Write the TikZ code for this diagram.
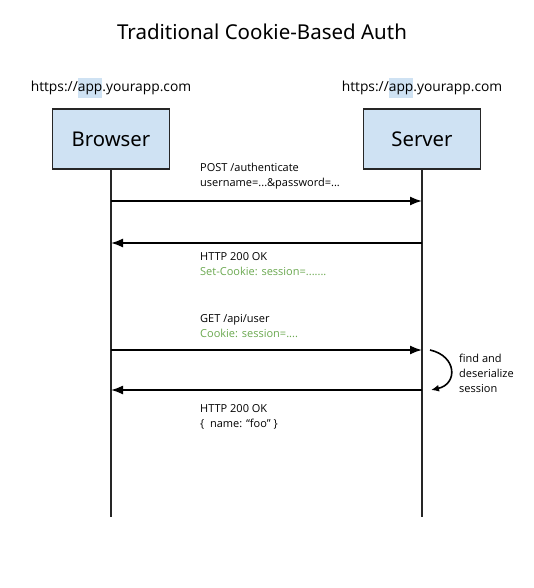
\documentclass[tikz,border=0pt]{standalone}
\usepackage{fontspec}
\setmainfont{Open Sans}
\newfontfamily\titlefont{Noto Sans}
\usetikzlibrary{arrows.meta}
\definecolor{boxblue}{HTML}{CFE2F3}
\definecolor{hlblue}{HTML}{CFE2F3}
\definecolor{okgreen}{HTML}{6AA84F}
\begin{document}
\begin{tikzpicture}[x=1pt,y=-1pt,
  actor/.style={draw=black!85,line width=1.6pt,fill=boxblue,minimum width=117pt,minimum height=60pt,font=\titlefont\fontsize{20.3}{22}\selectfont},
  lifeline/.style={draw=black!85,line width=1.8pt},
  msg/.style={draw=black,line width=1.6pt,-{Latex[length=12pt,width=9pt]}},
  lbl/.style={anchor=west,inner sep=0pt,align=left,font=\fontsize{11}{15}\selectfont},
  url/.style={inner sep=0pt,font=\fontsize{13.8}{15}\selectfont}]
\useasboundingbox (0,0) rectangle (534,588);
\node[font=\titlefont\fontsize{20.5}{24}\selectfont] (title) at (262,32) {Traditional Cookie-Based Auth};
\node[url] (u1) at (111,88) {https://\colorbox{hlblue}{\rule[-3pt]{0pt}{13pt}\hspace{-3pt}app\hspace{-3pt}}.yourapp.com};
\node[url] (u2) at (422,88) {https://\colorbox{hlblue}{\rule[-3pt]{0pt}{13pt}\hspace{-3pt}app\hspace{-3pt}}.yourapp.com};
\node[actor] (b) at (111,139) {Browser};
\node[actor] (s) at (422,139) {Server};
\coordinate (bend) at (111,517);
\coordinate (send) at (422,517);
\draw[lifeline] (b.south) -- (bend);
\draw[lifeline] (s.south) -- (send);
\coordinate (b1) at (111,201); \coordinate (s1) at (422,201);
\coordinate (b2) at (111,243); \coordinate (s2) at (422,243);
\coordinate (b3) at (111,350); \coordinate (s3) at (422,350);
\coordinate (b4) at (111,390); \coordinate (s4) at (422,390);
\draw[msg] (b1) -- (s1);
\draw[msg] (s2) -- (b2);
\draw[msg] (b3) -- (s3);
\draw[msg] (s4) -- (b4);
\node[lbl] (l1) at (200,176) {POST /authenticate\\username=...\&password=...};
\node[lbl] (l2) at (200,264.5) {HTTP 200 OK\\\textcolor{okgreen}{Set-Cookie: session=.......}};
\node[lbl] (l3) at (200,326.5) {GET /api/user\\\textcolor{okgreen}{Cookie: session=....}};
\node[lbl] (l4) at (200,416.5) {HTTP 200 OK\\\{ \ name: “foo” \}};
\coordinate (c1) at (430,350);
\coordinate (c2) at (431,390);
\draw[line width=1.6pt,-{Latex[length=8pt,width=7pt]}] (c1) .. controls (457,356) and (458,384) .. (c2);
\node[lbl] (l5) at (459,373) {find and\\deserialize\\session};
\end{tikzpicture}
\end{document}
